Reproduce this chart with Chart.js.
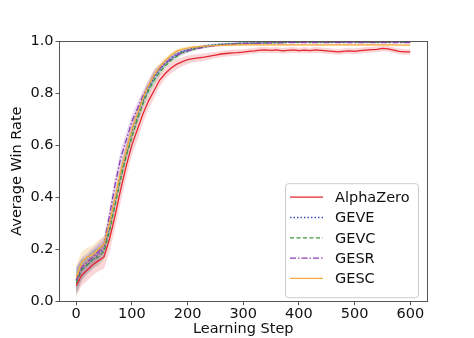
<!DOCTYPE html>
<html>
<head>
<meta charset="utf-8">
<script src="https://cdn.jsdelivr.net/npm/chart.js@4.4.1/dist/chart.umd.min.js"></script>
<style>
html, body { margin: 0; padding: 0; background: #fff; }
#wrap { width: 474px; height: 338px; }
</style>
</head>
<body>
<div id="wrap"><canvas id="myChart" width="474" height="338"></canvas></div>
<script>
const steps = [0,10,20,30,40,50,60,70,80,90,100,110,120,130,140,150,160,170,180,190,200,
	210,220,230,240,250,260,270,280,290,300,310,320,330,340,350,360,370,380,390,400,
	410,420,430,440,450,460,470,480,490,500,510,520,530,540,550,560,570,580,590,600];
const xTicks = [0, 100, 200, 300, 400, 500, 600];
const yTicks = [0, 0.2, 0.4, 0.6, 0.8, 1.0];
const seriesNames = ["AlphaZero", "GEVE", "GEVC", "GESR", "GESC"];

const alphaZero = [0.06,0.10,0.12,0.14,0.155,0.17,0.24,0.33,0.43,0.52,0.60,0.66,0.72,0.77,0.81,0.85,0.875,0.895,0.91,0.92,0.928,
	0.932,0.935,0.938,0.942,0.946,0.95,0.952,0.954,0.955,0.957,0.96,0.962,0.965,0.966,0.964,0.966,0.962,0.964,0.966,0.963,
	0.965,0.963,0.966,0.964,0.962,0.96,0.958,0.96,0.962,0.96,0.963,0.965,0.967,0.968,0.972,0.97,0.965,0.96,0.958,0.958];
const geve = [0.08,0.12,0.14,0.16,0.18,0.20,0.29,0.39,0.49,0.57,0.65,0.71,0.77,0.82,0.86,0.89,0.915,0.935,0.95,0.96,0.966,
	0.972,0.977,0.981,0.984,0.986,0.988,0.989,0.99,0.991,0.992,0.992,0.993,0.993,0.994,0.994,0.994,0.995,0.995,0.995,0.995,
	0.995,0.995,0.996,0.996,0.996,0.996,0.996,0.996,0.996,0.996,0.996,0.996,0.996,0.996,0.996,0.996,0.996,0.996,0.996,0.996];
const gevc = [0.07,0.12,0.14,0.16,0.17,0.19,0.27,0.37,0.47,0.56,0.63,0.70,0.76,0.81,0.85,0.88,0.905,0.925,0.94,0.955,0.962,
	0.968,0.974,0.978,0.981,0.984,0.986,0.988,0.989,0.99,0.991,0.992,0.992,0.993,0.993,0.994,0.994,0.994,0.995,0.995,0.995,
	0.995,0.995,0.995,0.995,0.995,0.995,0.995,0.995,0.995,0.995,0.995,0.995,0.995,0.995,0.995,0.995,0.995,0.995,0.995,0.995];
const gesr = [0.08,0.13,0.15,0.17,0.19,0.22,0.33,0.45,0.55,0.62,0.69,0.74,0.79,0.83,0.87,0.895,0.915,0.93,0.945,0.955,0.962,
	0.968,0.972,0.976,0.979,0.982,0.984,0.986,0.988,0.989,0.99,0.991,0.991,0.992,0.992,0.993,0.993,0.993,0.994,0.994,0.994,
	0.994,0.994,0.994,0.994,0.994,0.994,0.994,0.994,0.994,0.994,0.994,0.994,0.994,0.994,0.994,0.994,0.994,0.994,0.994,0.994];
const gesc = [0.09,0.15,0.17,0.18,0.20,0.22,0.30,0.40,0.50,0.58,0.66,0.72,0.78,0.83,0.87,0.90,0.925,0.945,0.96,0.968,0.973,
	0.976,0.978,0.98,0.981,0.982,0.983,0.984,0.984,0.985,0.985,0.985,0.985,0.985,0.985,0.985,0.985,0.985,0.985,0.985,0.985,
	0.985,0.985,0.985,0.985,0.985,0.985,0.985,0.985,0.985,0.985,0.985,0.985,0.985,0.985,0.985,0.985,0.985,0.984,0.984,0.984];

// half-width of the shaded band round each curve
const alphaZeroSpread = [0.04,0.04,0.04,0.04,0.04,0.045,0.05,0.05,0.05,0.045,0.04,0.04,0.035,0.03,0.03,0.025,0.02,0.02,0.02,0.018,0.016,
	0.015,0.015,0.014,0.013,0.012,0.012,0.012,0.012,0.012,0.011,0.011,0.011,0.011,0.011,0.011,0.011,0.011,0.011,0.011,0.011,
	0.011,0.011,0.011,0.011,0.011,0.011,0.011,0.011,0.011,0.011,0.011,0.011,0.011,0.011,0.011,0.011,0.011,0.011,0.011,0.011];
const otherSpread = [0.05,0.04,0.035,0.035,0.035,0.03,0.03,0.03,0.03,0.03,0.025,0.025,0.02,0.02,0.02,0.015,0.012,0.01,0.009,0.008,0.007,
	0.006,0.005,0.005,0.004,0.004,0.004,0.004,0.004,0.004,0.004,0.003,0.003,0.003,0.003,0.003,0.003,0.003,0.003,0.003,0.003,
	0.003,0.003,0.003,0.003,0.003,0.003,0.003,0.003,0.003,0.003,0.003,0.003,0.003,0.003,0.003,0.003,0.003,0.003,0.003,0.003];

const seriesValues = [alphaZero, geve, gevc, gesr, gesc];
const seriesSpread = [alphaZeroSpread, otherSpread, otherSpread, otherSpread, otherSpread];
const seriesColors = ["#e4262e", "#3a4fc4", "#3b9a3b", "#8a3db0", "#f5ad3c"];
const bandColors = ["rgba(240,90,100,0.25)", "rgba(70,90,200,0.2)", "rgba(60,160,60,0.2)", "rgba(140,60,180,0.2)", "rgba(245,173,60,0.25)"];
const seriesDashes = [[], [1.5, 2], [4, 2.5], [6, 2, 1.5, 2], []];

const fontFamily = "'DejaVu Sans', sans-serif";
const fontSize = 14.5;
const textColor = "#111";
const axisColor = "#555";

function costruisciDatasets() {
	const datasets = [];
	seriesNames.forEach((nome, k) => {
		const v = seriesValues[k];
		const sp = seriesSpread[k];
		datasets.push({
			label: "_low" + k,
			data: steps.map((s, i) => ({ x: s, y: v[i] - sp[i] })),
			borderWidth: 0, pointRadius: 0, fill: false, borderColor: "transparent", order: 10,
		});
		datasets.push({
			label: "_high" + k,
			data: steps.map((s, i) => ({ x: s, y: v[i] + sp[i] })),
			borderWidth: 0, pointRadius: 0, fill: "-1", backgroundColor: bandColors[k], borderColor: "transparent", order: 10,
		});
	});
	seriesNames.forEach((nome, k) => {
		datasets.push({
			label: nome,
			data: steps.map((s, i) => ({ x: s, y: seriesValues[k][i] })),
			borderColor: seriesColors[k],
			borderWidth: 1.3,
			borderDash: seriesDashes[k],
			pointRadius: 0,
			fill: false,
			order: 5 - k,
		});
	});
	return datasets;
}

const cornice = {
	id: "cornice",
	afterDraw(chart) {
		const { ctx, chartArea: a } = chart;
		ctx.save();
		ctx.strokeStyle = axisColor;
		ctx.lineWidth = 1;
		ctx.strokeRect(Math.round(a.left) + 0.5, Math.round(a.top) + 0.5, Math.round(a.right - a.left), Math.round(a.bottom - a.top));
		ctx.restore();
	},
};

const legenda = {
	id: "legenda",
	afterDraw(chart) {
		const { ctx, chartArea: a } = chart;
		const w = 133, h = 114;
		const x0 = a.right - 9 - w, y0 = a.bottom - 4 - h;
		ctx.save();
		ctx.fillStyle = "rgba(255,255,255,0.85)";
		ctx.strokeStyle = "#ccc";
		ctx.lineWidth = 1;
		ctx.beginPath();
		ctx.roundRect(x0 + 0.5, y0 + 0.5, w, h, 3);
		ctx.fill();
		ctx.stroke();
		ctx.font = fontSize + "px " + fontFamily;
		ctx.textBaseline = "middle";
		seriesNames.forEach((nome, k) => {
			const y = y0 + 14 + k * 20.3;
			ctx.strokeStyle = seriesColors[k];
			ctx.lineWidth = 1.3;
			ctx.setLineDash(seriesDashes[k]);
			ctx.beginPath();
			ctx.moveTo(x0 + 5, y);
			ctx.lineTo(x0 + 38, y);
			ctx.stroke();
			ctx.setLineDash([]);
			ctx.fillStyle = textColor;
			ctx.fillText(nome, x0 + 50, y + 1);
		});
		ctx.restore();
	},
};

function generaGrafico() {
	const ctx = document.getElementById("myChart").getContext("2d");
	const font = { family: fontFamily, size: fontSize };
	new Chart(ctx, {
		type: "line",
		data: { datasets: costruisciDatasets() },
		options: {
			responsive: false,
			animation: false,
			events: [],
			layout: { padding: { left: 9, right: 47, top: 41, bottom: 0 } },
			plugins: { legend: { display: false }, tooltip: { enabled: false } },
			scales: {
				x: {
					type: "linear",
					min: -30,
					max: 630,
					afterBuildTicks: (axis) => { axis.ticks = xTicks.map((v) => ({ value: v })); },
					grid: { drawOnChartArea: false, tickLength: 4, color: axisColor },
					border: { color: axisColor },
					ticks: { color: textColor, font, padding: 0, maxRotation: 0 },
					title: { display: true, text: "Learning Step", color: textColor, font, padding: { top: -2, bottom: 0 } },
				},
				y: {
					min: 0,
					max: 1,
					afterBuildTicks: (axis) => { axis.ticks = yTicks.map((v) => ({ value: v })); },
					grid: { drawOnChartArea: false, tickLength: 4, color: axisColor },
					border: { color: axisColor },
					ticks: { color: textColor, font, padding: 2, callback: (v) => v.toFixed(1) },
					title: { display: true, text: "Average Win Rate", color: textColor, font, padding: { top: 0, bottom: 2 } },
				},
			},
		},
		plugins: [cornice, legenda],
	});
}

generaGrafico();
</script>
</body>
</html>
